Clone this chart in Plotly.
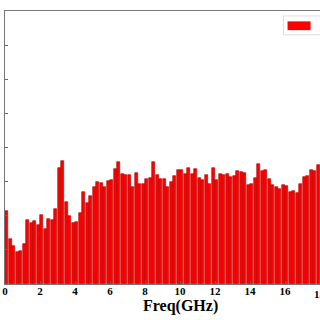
import plotly.graph_objects as go

freq_ghz = [round(0.1 + 0.2 * i, 2) for i in range(90)]
amplitude = [
    0.214, 0.132, 0.111, 0.094, 0.096, 0.117, 0.187, 0.179, 0.184, 0.172,
    0.201, 0.160, 0.191, 0.187, 0.221, 0.339, 0.361, 0.240, 0.199, 0.179,
    0.183, 0.208, 0.270, 0.236, 0.257, 0.283, 0.300, 0.296, 0.285, 0.302,
    0.304, 0.338, 0.357, 0.322, 0.320, 0.320, 0.283, 0.325, 0.292, 0.292,
    0.309, 0.312, 0.357, 0.320, 0.309, 0.308, 0.285, 0.299, 0.316, 0.333,
    0.335, 0.322, 0.341, 0.321, 0.338, 0.312, 0.304, 0.319, 0.292, 0.339,
    0.304, 0.322, 0.320, 0.321, 0.314, 0.316, 0.330, 0.327, 0.324, 0.290,
    0.294, 0.310, 0.353, 0.331, 0.333, 0.309, 0.289, 0.283, 0.279, 0.289,
    0.287, 0.270, 0.273, 0.268, 0.292, 0.314, 0.317, 0.334, 0.330, 0.350,
]
x_ticks = [0, 2, 4, 6, 8, 10, 12, 14, 16]
edge_tick = 18
y_ticks = [0, 0.1, 0.2, 0.3, 0.4, 0.5, 0.6, 0.7, 0.8]
x_title = "Freq(GHz)"

fig = go.Figure()
fig.add_trace(go.Bar(
    x=freq_ghz, y=amplitude, width=0.15,
    marker=dict(color="#ff0000", line=dict(color="#a80000", width=0.6)),
    showlegend=False, hoverinfo="skip",
))

axis_font = dict(family="Liberation Serif", size=11, color="black", weight="bold")
fig.update_layout(
    width=320, height=320,
    margin=dict(l=5, r=0, t=11, b=36),
    plot_bgcolor="white", paper_bgcolor="white",
    bargap=0,
    xaxis=dict(
        range=[0, 18], tickvals=x_ticks, ticktext=[str(v) for v in x_ticks],
        tickfont=axis_font, ticks="inside", ticklen=3, tickcolor="#666",
        ticklabelstandoff=-3,
        showline=True, linecolor="#777", linewidth=1, mirror=True,
        showgrid=False, zeroline=False,
    ),
    yaxis=dict(
        range=[0, 0.8], tickvals=y_ticks, showticklabels=False,
        ticks="inside", ticklen=3, tickcolor="#666",
        showline=True, linecolor="#777", linewidth=1,
        showgrid=False, zeroline=False,
    ),
    annotations=[
        dict(
            text=x_title, xref="x", x=10, yref="paper", y=-0.08,
            yanchor="middle", showarrow=False,
            font=dict(family="Liberation Serif", size=16, color="black", weight="bold"),
        ),
        dict(
            text=str(edge_tick), xref="x", x=edge_tick, xanchor="center",
            yref="paper", y=-0.008, yanchor="top", showarrow=False,
            font=axis_font,
        ),
    ],
    shapes=[
        dict(type="rect", xref="paper", yref="paper", x0=0.884, x1=1.1, y0=0.913, y1=0.982,
             line=dict(color="#dddddd", width=1), fillcolor="white", layer="above"),
        dict(type="rect", xref="paper", yref="paper", x0=0.897, x1=0.97, y0=0.93, y1=0.962,
             line=dict(color="#ff0000", width=0), fillcolor="#ff0000", layer="above"),
    ],
)

fig.write_html(
    "out.html",
    config={"displayModeBar": False},
    post_script="document.body.style.margin='0';document.body.style.overflow='hidden';",
)
